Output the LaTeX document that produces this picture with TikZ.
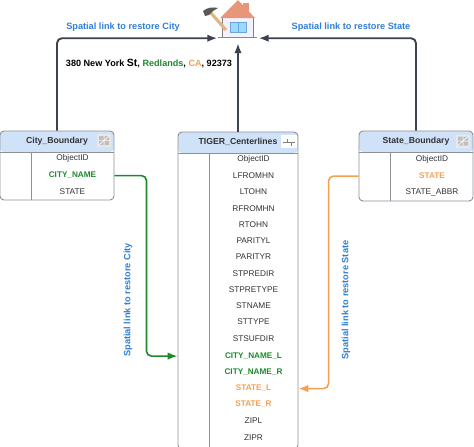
\documentclass[tikz,border=0pt]{standalone}
\usepackage{fontspec}
\setmainfont{Liberation Sans}
\usetikzlibrary{arrows.meta, positioning, calc}
\definecolor{linkDark}{RGB}{60, 66, 78}
\definecolor{linkBlue}{RGB}{47, 126, 216}
\definecolor{cityGreen}{RGB}{28, 138, 44}
\definecolor{stateOrange}{RGB}{244, 160, 80}
\definecolor{headBlue}{RGB}{207, 226, 248}
\definecolor{edgeGrey}{RGB}{140, 145, 152}
\definecolor{rowText}{RGB}{50, 50, 55}
\definecolor{roofRed}{RGB}{232, 150, 122}
\definecolor{handleTan}{RGB}{226, 182, 132}
\tikzset{
  tablebox/.style={draw=edgeGrey, line width=0.9pt, rounded corners=4pt, inner sep=0pt,
    path picture={
      \fill[headBlue] (path picture bounding box.north west) rectangle ([yshift=-21pt]path picture bounding box.north east);
      \draw[edgeGrey, line width=0.9pt] ([yshift=-21pt]path picture bounding box.north west) -- ([yshift=-21pt]path picture bounding box.north east);
      \draw[edgeGrey, line width=0.9pt] ([xshift=31.5pt,yshift=-21pt]path picture bounding box.north west) -- ([xshift=31.5pt]path picture bounding box.south west);
    }},
  tabletitle/.style={font=\bfseries\fontsize{8.7}{10}\selectfont, text=rowText, minimum height=21pt, inner sep=0pt},
  tablerow/.style={font=\fontsize{8.3}{9}\selectfont, inner sep=0pt, minimum height=16pt, yshift=-0.6pt},
  keyrow/.style={font=\bfseries\fontsize{8.2}{9}\selectfont, inner sep=0pt, minimum height=16pt, yshift=-0.6pt},
  linklabel/.style={font=\bfseries\fontsize{9.2}{10}\selectfont, text=linkBlue, inner sep=0pt},
  restorelink/.style={-{Latex[length=10pt,width=7.5pt]}, line width=1.9pt, linkDark, rounded corners=5pt},
  keylink/.style={-{Latex[length=10pt,width=7.5pt]}, line width=1.6pt, rounded corners=5pt},
  polyicon/.pic={
    \fill[gray!18] (0,0) rectangle (14,13);
    \fill[gray!50] (2,2) rectangle (6.5,6) (7.5,2) rectangle (12,6) (2,7) rectangle (6.5,11) (7.5,7) rectangle (12,11);
    \draw[white, line width=0.6pt] (2,11) -- (12,2);
  }
}
\begin{document}
\begin{tikzpicture}[x=1pt, y=-1pt]
  \clip (0,0) rectangle (474,447);
  % house
  \fill[roofRed] (243,3) rectangle (249,14);
  \fill[blue!5] (222,18) rectangle (253,37);
  \draw[gray, line width=0.7pt] (222,18) -- (222,37) (253,18) -- (253,37);
  \fill[roofRed] (220,18) -- (238,0) -- (255,18) -- cycle;
  \fill[blue!35!cyan!40] (230,22) rectangle (246,32);
  \draw[linkBlue!70, line width=0.5pt] (230,22) rectangle (246,32) (238,22) -- (238,32);
  \draw[green!40!gray, line width=1.1pt] (218,37.8) -- (257,37.8);
  \draw[line width=3.2pt, handleTan] (211,13) -- (226,30);
  \fill[gray!70!black] (205,16) -- (203,11) .. controls (208,7) and (213,7) .. (218,8) -- (213,11) -- (209,15) -- cycle;
  \node[minimum width=41pt, minimum height=38pt, inner sep=0pt] (house) at (238,19) {};

  % tables
  \node[tablebox, minimum width=114pt, minimum height=69pt] (city) at (57,165.5) {};
  \node[tablebox, minimum width=120pt, minimum height=317pt] (tiger) at (238,290.5) {};
  \node[tablebox, minimum width=114pt, minimum height=70pt] (state) at (416,166) {};

  \node[tabletitle, below=0pt of city.north] (citytitle) {City\_Boundary};
  \node[tabletitle, below=0pt of tiger.north] (tigertitle) {TIGER\_Centerlines};
  \node[tabletitle, below=0pt of state.north] (statetitle) {State\_Boundary};

  \pic at (97,134) {polyicon};
  \pic at (456,134.5) {polyicon};
  \fill[white] (281,135) rectangle (297,148);
  \draw[gray, line width=0.6pt] (283,142) -- (295,142) (287,139) -- (287,142) (291,142) -- (291,146);

  % rows
  \node[tablerow, text=rowText] (cityrow1) at (72.5,158) {ObjectID};
  \node[keyrow, text=cityGreen] (cityrow2) at (72.5,175) {CITY\_NAME};
  \node[tablerow, text=rowText] (cityrow3) at (72.5,191) {STATE};

  \node[tablerow, text=rowText] (staterow1) at (432,159) {ObjectID};
  \node[keyrow, text=stateOrange] (staterow2) at (432,175.5) {STATE};
  \node[tablerow, text=rowText] (staterow3) at (432,192) {STATE\_ABBR};

  \foreach \lbl [count=\i] in {ObjectID, LFROMHN, LTOHN, RFROMHN, RTOHN, PARITYL, PARITYR, STPREDIR, STPRETYPE, STNAME, STTYPE, STSUFDIR}
    \node[tablerow, text=rowText] (tigerrow\i) at (253.5,{159+16.25*(\i-1)}) {\lbl};
  \node[keyrow, text=cityGreen] (tigerrow13) at (253.5,355.5) {CITY\_NAME\_L};
  \node[keyrow, text=cityGreen] (tigerrow14) at (253.5,372) {CITY\_NAME\_R};
  \node[keyrow, text=stateOrange] (tigerrow15) at (253.5,388) {STATE\_L};
  \node[keyrow, text=stateOrange] (tigerrow16) at (253.5,404) {STATE\_R};
  \node[tablerow, text=rowText] (tigerrow17) at (253.5,420.5) {ZIPL};
  \node[tablerow, text=rowText] (tigerrow18) at (253.5,437) {ZIPR};

  % labels
  \node[linklabel] (citylabel) at (123,27) {Spatial link to restore City};
  \node[linklabel] (statelabel) at (351,27) {Spatial link to restore State};
  \node[font=\bfseries\fontsize{9.1}{10}\selectfont, inner sep=0pt] (address) at (149,64) {380 New York {\fontsize{10.5}{10}\selectfont St}, \textcolor{cityGreen}{Redlands}, \textcolor{stateOrange}{CA}, 92373};
  \node[linklabel, rotate=90] (citylink) at (128,300) {Spatial link to restore City};
  \node[linklabel, rotate=90] (statelink) at (346,300) {Spatial link to restore State};

  % links
  \draw[restorelink] (city.north) |- (house.south west);
  \draw[restorelink] (state.north) |- (house.south east);
  \draw[restorelink] (tiger.north) -- ([yshift=-5pt]house.south);
  \draw[keylink, cityGreen] (city.east |- cityrow2) -- ++(32,0) |- (tiger.west |- tigerrow13);
  \draw[keylink, stateOrange] (state.west |- staterow2) -- ++(-30,0) |- (tiger.east |- tigerrow15);
\end{tikzpicture}
\end{document}
